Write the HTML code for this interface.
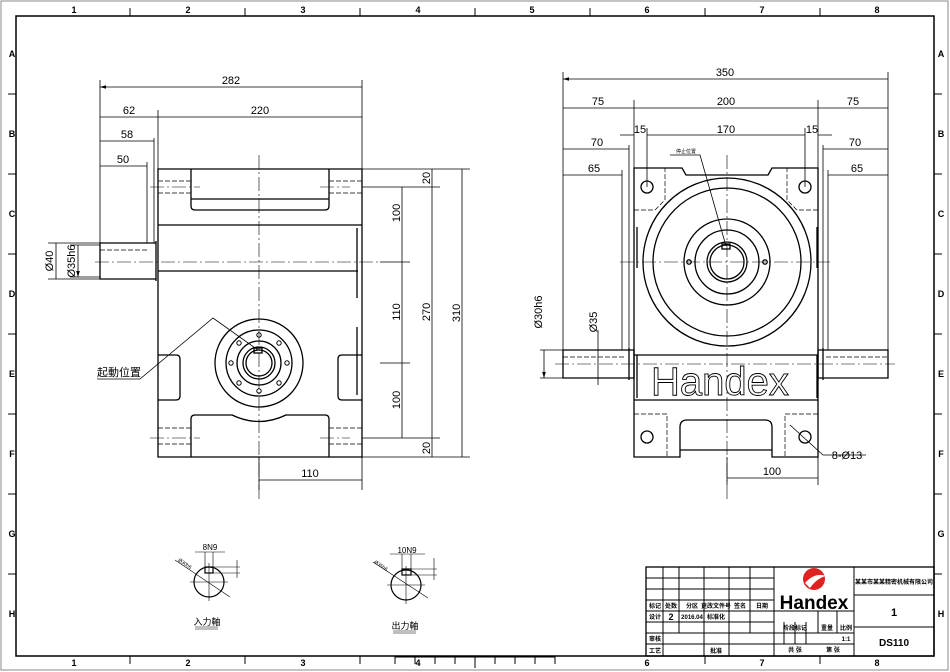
<!DOCTYPE html>
<html><head><meta charset="utf-8"><style>
html,body{margin:0;padding:0;background:#fff}
svg{display:block}
text{font-family:"Liberation Sans","Noto Sans CJK SC",sans-serif;fill:#000}
</style></head><body>
<svg width="950" height="672" viewBox="0 0 950 672" xmlns="http://www.w3.org/2000/svg">
<defs>
<marker id="a" viewBox="0 0 10 10" refX="10" refY="5" markerWidth="8" markerHeight="6" orient="auto-start-reverse" markerUnits="userSpaceOnUse"><path d="M0,2 L10,5 L0,8z" fill="#000"/></marker>
</defs>
<g fill="none" stroke="#000">
<!-- frames -->
<rect x="1" y="1" width="947" height="669" stroke="#888" stroke-width="1"/>
<rect x="16" y="16" width="918" height="640" stroke-width="1.5"/>
<g stroke-width="1">
<path d="M130,8V16M245,8V16M360,8V16M475,8V16M590,8V16M705,8V16M820,8V16"/>
<path d="M130,656V664M245,656V664M360,656V664M705,656V664M820,656V664"/>
<path d="M8,94H16M8,174H16M8,254H16M8,334H16M8,414H16M8,494H16M8,574H16"/>
<path d="M934,94H942M934,174H942M934,254H942M934,334H942M934,414H942M934,494H942M934,574H942"/>
<path d="M395,664V657H555V664M415,657V664M435,657V664M455,657V664M495,657V664M515,657V664M535,657V664M475,656V668"/>
</g>
</g>
<g font-size="9" font-weight="bold" text-anchor="middle">
<text x="74" y="13">1</text><text x="188" y="13">2</text><text x="303" y="13">3</text><text x="418" y="13">4</text><text x="532" y="13">5</text><text x="647" y="13">6</text><text x="762" y="13">7</text><text x="877" y="13">8</text>
<text x="74" y="666">1</text><text x="188" y="666">2</text><text x="303" y="666">3</text><text x="418" y="666">4</text><text x="647" y="666">6</text><text x="762" y="666">7</text><text x="877" y="666">8</text>
<text x="12" y="57">A</text><text x="12" y="137">B</text><text x="12" y="217">C</text><text x="12" y="297">D</text><text x="12" y="377">E</text><text x="12" y="457">F</text><text x="12" y="537">G</text><text x="12" y="617">H</text>
<text x="941" y="57">A</text><text x="941" y="137">B</text><text x="941" y="217">C</text><text x="941" y="297">D</text><text x="941" y="377">E</text><text x="941" y="457">F</text><text x="941" y="537">G</text><text x="941" y="617">H</text>
</g>

<!-- LEFT VIEW -->
<g fill="none" stroke="#000" stroke-width="1.3">
<path d="M158,169H362V457H158Z"/>
<path d="M158,225H362M158,271H358"/>
<path d="M191,169V206Q191,210 195,210H325Q329,210 329,206V169M191,199H329"/>
<path d="M100,243H156V279H100Z M156,241V281"/>
<path d="M191,457V419Q191,415 195,415H232Q259,428 286,415H325Q329,415 329,419V457"/>
<path d="M158,355H176Q180,355 180,359V396Q180,400 176,400H158"/>
<path d="M362,355H342Q338,355 338,359V396Q338,400 342,400H362"/>
<path d="M357,228V298M357,327V395"/>
<circle cx="259" cy="363" r="44"/><circle cx="259" cy="363" r="33"/><circle cx="259" cy="363" r="22"/><circle cx="259" cy="363" r="16"/><circle cx="259" cy="363" r="13"/>
<rect x="254" y="348" width="8" height="5"/>
</g>
<g fill="none" stroke="#000" stroke-width="1">
<circle cx="259" cy="335" r="2.2"/><circle cx="259" cy="391" r="2.2"/><circle cx="231" cy="363" r="2.2"/><circle cx="287" cy="363" r="2.2"/>
<circle cx="239" cy="343" r="2.2"/><circle cx="279" cy="343" r="2.2"/><circle cx="239" cy="383" r="2.2"/><circle cx="279" cy="383" r="2.2"/>
</g>
<g stroke="#000" stroke-width="0.7" fill="none" stroke-dasharray="5,2">
<path d="M158,181H191M158,193H191M329,181H362M329,193H362M158,428H191M158,444H191M329,428H362M329,444H362M100,250H147"/>
</g>
<g stroke="#000" stroke-width="0.6" fill="none" stroke-dasharray="14,3,2,3">
<path d="M259,155V500M95,262H380M150,187H200M320,187H350M150,438H200M320,438H350"/>
</g>
<g stroke="#000" stroke-width="0.8" fill="none">
<path d="M100,80V243M158,110V169M154,138V243M147,162V243M362,80V169"/>
<path d="M362,169H470M362,187H440M380,262H410M380,363H410M362,438H440M362,457H470M259,457V490M362,457V490"/>
<path d="M48,243H100M48,279H100M70,245H100M70,277H100"/>
<path d="M97,379H140L213,318L258,350"/>
<path d="M100,87H362M100,117H158M158,117H362M100,141H154M100,166H147M402,187V262M402,262V363M402,363V438M432,169V187M432,187V438M432,438V457M462,169V457M259,480H362M56,243V279M78,245V277" marker-start="url(#a)" marker-end="url(#a)"/>
</g>
<g font-size="11" text-anchor="middle">
<text x="231" y="84">282</text><text x="129" y="114">62</text><text x="260" y="114">220</text><text x="127" y="138">58</text><text x="123" y="163">50</text>
<text x="310" y="477">110</text>
<text transform="translate(400,213) rotate(-90)">100</text><text transform="translate(400,312) rotate(-90)">110</text><text transform="translate(400,400) rotate(-90)">100</text>
<text transform="translate(430,178) rotate(-90)">20</text><text transform="translate(430,312) rotate(-90)">270</text><text transform="translate(430,448) rotate(-90)">20</text>
<text transform="translate(460,313) rotate(-90)">310</text>
<text transform="translate(53,261) rotate(-90)">Ø40</text><text transform="translate(75,261) rotate(-90)">Ø35h6</text>
<text x="119" y="376" font-size="11">起動位置</text>
</g>

<!-- RIGHT VIEW -->
<g fill="none" stroke="#000" stroke-width="1.3">
<path d="M634,168H682L686,175H768L772,168H818V457H772V427Q772,420 765,420H687Q680,420 680,427V457H634Z"/>
<path d="M634,355H818M634,400H818M680,450H772"/>
<circle cx="727" cy="262" r="84"/><circle cx="727" cy="262" r="74"/><circle cx="727" cy="262" r="43"/><circle cx="727" cy="262" r="32"/><circle cx="727" cy="262" r="20"/><circle cx="727" cy="262" r="17"/>
<rect x="722" y="244" width="8" height="5"/>
<path d="M563,350H634V378H563ZM629,348V380"/>
<path d="M818,350H888V378H818ZM823,348V380"/>
<path d="M637,227V268M817,227V268M637,355V398M817,355V398"/>
<circle cx="647" cy="187" r="6"/><circle cx="805" cy="187" r="6"/><circle cx="647" cy="437" r="6"/><circle cx="805" cy="437" r="6"/>
<circle cx="689" cy="262" r="2.2"/><circle cx="765" cy="262" r="2.2"/>
</g>
<g stroke="#000" stroke-width="0.7" fill="none" stroke-dasharray="5,2">
<path d="M634,210H655L665,200V168M818,210H797L787,200V168M634,414H667V457M818,414H785V457M563,357H626M826,357H888"/>
</g>
<g stroke="#000" stroke-width="0.6" fill="none" stroke-dasharray="14,3,2,3">
<path d="M727,155V500M620,262H830M555,364H895"/>
</g>
<g stroke="#000" stroke-width="0.8" fill="none">
<path d="M563,72V350M888,72V350M634,100V168M818,100V168M647,128V187M805,128V187M629,145V348M823,145V348M622,170V350M828,170V350M818,457V485M727,457V485"/>
<path d="M540,350H563M540,378H563M598,330V385"/>
<path d="M670,155H700L726,246"/>
<path d="M790,425L823,455H866"/>
<path d="M563,79H888M563,108H634M634,108H818M818,108H888M647,135H805M563,149H629M823,149H888M563,175H622M828,175H888M727,478H818M544,350V378" marker-start="url(#a)" marker-end="url(#a)"/>
<path d="M620,135H634M818,135H832"/>
</g>
<g font-size="11" text-anchor="middle">
<text x="725" y="76">350</text><text x="598" y="105">75</text><text x="726" y="105">200</text><text x="853" y="105">75</text>
<text x="640" y="133">15</text><text x="726" y="133">170</text><text x="812" y="133">15</text>
<text x="597" y="146">70</text><text x="855" y="146">70</text><text x="594" y="172">65</text><text x="857" y="172">65</text>
<text x="772" y="475">100</text>
<text transform="translate(542,312) rotate(-90)">Ø30h6</text><text transform="translate(597,322) rotate(-90)">Ø35</text>
<text x="847" y="459" text-anchor="middle">8-Ø13</text>
<text x="686" y="153" font-size="5">停止位置</text>
</g>
<text x="651" y="395" font-size="40" fill="#fff" stroke="#000" stroke-width="0.9" style="fill:#fff">Handex</text>

<!-- shaft sections -->
<g fill="none" stroke="#000" stroke-width="1.2">
<circle cx="209" cy="582" r="15"/><circle cx="406" cy="585" r="15"/>
<rect x="205" y="567" width="8" height="6"/><rect x="402" y="569" width="9" height="6"/>
</g>
<g fill="none" stroke="#000" stroke-width="0.6">
<path d="M190,582H228M209,563V601M387,585H425M406,566V604"/>
<path d="M175,560L230,597M373,562L428,598M195,552H225M205,552V567M213,552V567M213,573H240M213,567H240M237,560V578M390,554H425M402,554V569M411,554V569M411,575H437M411,569H437M434,558V580"/>
<path d="M195,627H218M195,629H218M393,631H416M393,633H416"/>
</g>
<g font-size="8" text-anchor="middle">
<text x="210" y="550">8N9</text><text x="407" y="553">10N9</text>
<text x="184" y="565" font-size="5" transform="rotate(33 184 565)">Ø30h6</text>
<text x="380" y="567" font-size="5" transform="rotate(33 380 567)">Ø35h6</text>
<text x="207" y="625" font-size="9">入力軸</text><text x="405" y="629" font-size="9">出力軸</text>
</g>

<!-- title block -->
<g fill="none" stroke="#000" stroke-width="1">
<rect x="646" y="567" width="288" height="89" stroke-width="1.3"/>
<path d="M646,578H774M646,589H774M646,600H774M646,611H854M646,622H774M646,633H854M646,644H774"/>
<path d="M663,567V656M679,567V633M704,567V656M729,567V656M750,567V633M774,567V656M854,567V656"/>
<path d="M774,644H854M784,622V644M795,622V644M806,622V644M818,611V633M837,611V633M854,595H934M854,627H934"/>
</g>
<g font-size="6" font-weight="bold" text-anchor="middle">
<text x="655" y="608">标记</text><text x="671" y="608">处数</text><text x="692" y="608">分区</text><text x="716" y="608">更改文件号</text><text x="740" y="608">签名</text><text x="762" y="608">日期</text>
<text x="655" y="619">设计</text><text x="671" y="620" font-size="9">2</text><text x="692" y="619">2016.04</text><text x="716" y="619">标准化</text>
<text x="655" y="641">审核</text><text x="655" y="653">工艺</text><text x="716" y="653">批准</text>
<text x="795" y="630">阶段标记</text><text x="827" y="630">重量</text><text x="846" y="630">比例</text><text x="846" y="641">1:1</text>
<text x="795" y="652">共 张</text><text x="833" y="652">第 张</text>
<text x="894" y="584">某某市某某精密机械有限公司</text>
</g>
<text x="894" y="616" font-size="11" font-weight="bold" text-anchor="middle">1</text>
<text x="894" y="646" font-size="10" font-weight="bold" text-anchor="middle">DS110</text>
<circle cx="814" cy="579" r="11" fill="#d22" />
<path d="M805,583Q815,572 826,576Q817,578 810,588Z" fill="#fff"/>
<text x="814" y="609" font-size="19" font-weight="bold" text-anchor="middle">Handex</text>
</svg>
</body></html>
